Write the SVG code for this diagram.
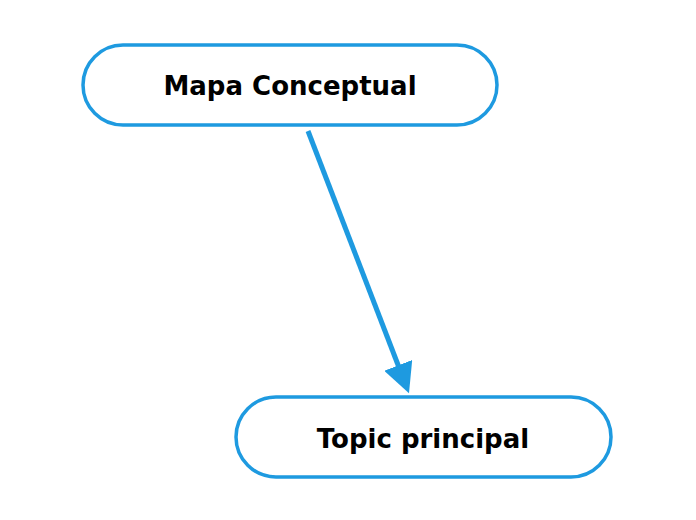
<svg xmlns="http://www.w3.org/2000/svg" width="696" height="520" viewBox="0 0 696 520">
<style>
.n{fill:#fff;stroke:#1E9AE0;stroke-width:3.5}
.t{font-family:"DejaVu Sans",sans-serif;font-weight:bold;font-size:26px;fill:#000;text-anchor:middle}
</style>
<defs><marker id="a" markerWidth="6" markerHeight="6" refX="1" refY="3" orient="auto" markerUnits="strokeWidth"><path d="M0,0 L6,3 L0,6 z" fill="#1E9AE0"/></marker></defs>
<rect width="696" height="520" fill="#fff"/>
<g id="connectors"><line x1="308" y1="131" x2="400" y2="370" stroke="#1E9AE0" stroke-width="5" marker-end="url(#a)"/></g>
<g id="n1"><rect class="n" x="83" y="45" width="414" height="80" rx="40"/><text class="t" x="290" y="95">Mapa Conceptual</text></g>
<g id="n2"><rect class="n" x="236" y="397" width="375" height="80" rx="40"/><text class="t" x="423" y="448">Topic principal</text></g>
</svg>
